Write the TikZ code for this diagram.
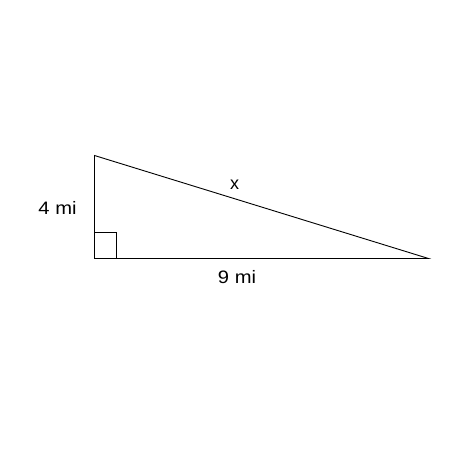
\documentclass[tikz,border=0pt]{standalone}
\usepackage{fontspec}
\setmainfont{Liberation Sans}
\begin{document}
\begin{tikzpicture}[x=1pt,y=-1pt,
  edge/.style={draw=black,line width=0.9pt},
  lbl/.style={font=\fontsize{18}{20}\selectfont,inner sep=0pt,anchor=base}]
\useasboundingbox (0,0) rectangle (450,450);
\coordinate (A) at (94.5,155.5);
\coordinate (B) at (94.5,258.5);
\coordinate (C) at (428.5,258.5);
\draw[edge] (A) -- (B) -- (C) -- cycle;
\coordinate (S1) at (94.5,232.5);
\coordinate (S2) at (116.5,232.5);
\coordinate (S3) at (116.5,258.5);
\draw[edge] (S1) -- (S2) -- (S3);
\node[lbl] (h) at (57.5,214.5) {\scalebox{1.12}[1]{4 mi}};
\node[lbl] (x) at (234.5,189.5) {x};
\node[lbl] (b) at (237,283.5) {\scalebox{1.12}[1]{9 mi}};
\end{tikzpicture}
\end{document}
